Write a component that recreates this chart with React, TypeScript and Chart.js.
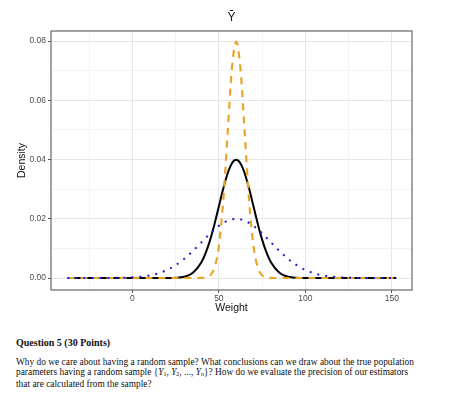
import React, { useEffect, useRef } from "react";
import { Chart, registerables } from "chart.js";

Chart.register(...registerables);

// Weight grid (x) shared by the three density curves
const weights = [-37.5, -30, -20, -10, 0, 5, 10, 15, 20, 25, 30, 35, 40, 42.5, 45, 47.5, 50, 52.5, 55, 57.5, 60, 62.5, 65, 67.5, 70, 72.5, 75, 77.5, 80, 85, 90, 95, 100, 105, 110, 115, 120, 130, 140, 152.5];

// black solid curve (sd ≈ 10)
const densityBlack = [0, 0, 0, 0, 0, 0, 0, 0.0000016, 0.0000134, 0.0000873, 0.000443, 0.00175, 0.0054, 0.00863, 0.01295, 0.01826, 0.0242, 0.03011, 0.03521, 0.03867, 0.03989, 0.03867, 0.03521, 0.03011, 0.0242, 0.01826, 0.01295, 0.00863, 0.0054, 0.00175, 0.000443, 0.0000873, 0.0000134, 0.0000016, 0, 0, 0, 0, 0, 0];

// orange dashed curve (sd ≈ 5)
const densityOrange = [0, 0, 0, 0, 0, 0, 0, 0, 0, 0, 0, 0, 0.0000268, 0.000175, 0.000886, 0.003506, 0.0108, 0.0259, 0.04839, 0.07041, 0.07979, 0.07041, 0.04839, 0.0259, 0.0108, 0.003506, 0.000886, 0.000175, 0.0000268, 0, 0, 0, 0, 0, 0, 0, 0, 0, 0, 0];

// blue dotted curve (sd ≈ 20)
const densityBlue = [0, 0.0000008, 0.0000067, 0.0000436, 0.000222, 0.000455, 0.000876, 0.001587, 0.0027, 0.004314, 0.006476, 0.009132, 0.012099, 0.013602, 0.015057, 0.016408, 0.017603, 0.018593, 0.019333, 0.019792, 0.019947, 0.019792, 0.019333, 0.018593, 0.017603, 0.016408, 0.015057, 0.013602, 0.012099, 0.009132, 0.006476, 0.004314, 0.0027, 0.001587, 0.000876, 0.000455, 0.000222, 0.0000436, 0.0000067, 0];

const xTicks = [-25, 0, 25, 50, 75, 100, 125, 150];
const xMajor = [0, 50, 100, 150];
const yTicks = [0, 0.01, 0.02, 0.03, 0.04, 0.05, 0.06, 0.07, 0.08];
const yMajor = [0, 0.02, 0.04, 0.06, 0.08];

const chartTitle = "Ȳ";
const xTitle = "Weight";
const yTitle = "Density";

const isMajor = (v: number, list: number[]) => list.some((m) => Math.abs(m - v) < 1e-9);

const toPoints = (ys: number[]) => weights.map((x, i) => ({ x, y: ys[i] }));

export default function App() {
  const ref = useRef<HTMLCanvasElement | null>(null);

  useEffect(() => {
    if (!ref.current) return;
    const framePlugin = {
      id: "frame",
      afterDraw(chart: any) {
        const { ctx, chartArea } = chart;
        ctx.save();
        ctx.strokeStyle = "#666666";
        ctx.lineWidth = 1.2;
        ctx.strokeRect(chartArea.left, chartArea.top, chartArea.right - chartArea.left, chartArea.bottom - chartArea.top);
        ctx.fillStyle = "#111111";
        ctx.font = "12px 'Liberation Sans', 'DejaVu Sans', sans-serif";
        ctx.textAlign = "center";
        ctx.textBaseline = "middle";
        ctx.fillText(chartTitle, (chartArea.left + chartArea.right) / 2, 18);
        ctx.restore();
      },
    };

    const chart = new Chart(ref.current, {
      type: "line",
      data: {
        datasets: [
          {
            label: "sd20",
            data: toPoints(densityBlue),
            borderColor: "#1c1cc8",
            borderWidth: 2,
            borderDash: [2, 6],
            pointRadius: 0,
            cubicInterpolationMode: "monotone",
            fill: false,
          },
          {
            label: "sd5",
            data: toPoints(densityOrange),
            borderColor: "#EBA42A",
            borderWidth: 2.2,
            borderDash: [7, 6],
            pointRadius: 0,
            cubicInterpolationMode: "monotone",
            fill: false,
          },
          {
            label: "sd10",
            data: toPoints(densityBlack),
            borderColor: "#000000",
            borderWidth: 2,
            pointRadius: 0,
            cubicInterpolationMode: "monotone",
            fill: false,
          },
        ],
      },
      options: {
        animation: false,
        responsive: false,
        maintainAspectRatio: false,
        layout: { padding: { left: 0, right: 62, top: 31, bottom: 0 } },
        plugins: { legend: { display: false }, tooltip: { enabled: false }, title: { display: false } },
        scales: {
          x: {
            type: "linear",
            min: -47,
            max: 161.6,
            afterBuildTicks: (axis: any) => {
              axis.ticks = xTicks.map((v) => ({ value: v }));
            },
            afterFit: (axis: any) => {
              axis.height = 30;
            },
            border: { display: false },
            grid: {
              color: (c: any) => (isMajor(c.tick?.value, xMajor) ? "#e6e6e6" : "#f3f3f3"),
              tickColor: (c: any) => (isMajor(c.tick?.value, xMajor) ? "#555555" : "rgba(0,0,0,0)"),
              tickLength: 3,
              lineWidth: 1,
            },
            ticks: {
              padding: 1,
              color: "#4d4d4d",
              font: { size: 8.5, family: "'Liberation Sans', Arial, sans-serif" },
              maxRotation: 0,
              autoSkip: false,
              callback: (v: any) => (isMajor(Number(v), xMajor) ? String(v) : ""),
            },
            title: {
              display: true,
              text: xTitle,
              color: "#111111",
              font: { size: 10.5, family: "'Liberation Sans', Arial, sans-serif" },
              padding: { top: 0, bottom: 6 },
            },
          },
          y: {
            type: "linear",
            min: -0.00405,
            max: 0.0834,
            afterBuildTicks: (axis: any) => {
              axis.ticks = yTicks.map((v) => ({ value: v }));
            },
            afterFit: (axis: any) => {
              axis.width = 51;
            },
            border: { display: false },
            grid: {
              color: (c: any) => (isMajor(c.tick?.value, yMajor) ? "#e6e6e6" : "#f3f3f3"),
              tickColor: (c: any) => (isMajor(c.tick?.value, yMajor) ? "#555555" : "rgba(0,0,0,0)"),
              tickLength: 3,
              lineWidth: 1,
            },
            ticks: {
              padding: 2,
              color: "#4d4d4d",
              font: { size: 8.5, family: "'Liberation Sans', Arial, sans-serif" },
              autoSkip: false,
              callback: (v: any) => (isMajor(Number(v), yMajor) ? Number(v).toFixed(2) : ""),
            },
            title: {
              display: true,
              text: yTitle,
              color: "#111111",
              font: { size: 10.5, family: "'Liberation Sans', Arial, sans-serif" },
              padding: { top: 16, bottom: 0 },
            },
          },
        },
      },
      plugins: [framePlugin],
    } as any);
    return () => chart.destroy();
  }, []);

  const serif = "'Liberation Serif', 'DejaVu Serif', serif";
  return (
    <div style={{ position: "absolute", top: 0, left: 0, width: 474, height: 396, background: "#ffffff" }}>
      <canvas ref={ref} width={474} height={320} style={{ position: "absolute", top: 0, left: 0, width: 474, height: 320 }} />
      <div style={{ position: "absolute", top: 337, left: 16, fontFamily: serif, fontSize: 10, fontWeight: "bold", color: "#111", whiteSpace: "nowrap", lineHeight: "12px" }}>
        Question 5 (30 Points)
      </div>
      <div style={{ position: "absolute", top: 358, left: 16, fontFamily: serif, fontSize: 9.4, color: "#111", whiteSpace: "nowrap", lineHeight: "9.9px" }}>
        <div>Why do we care about having a random sample? What conclusions can we draw about the true population</div>
        <div>
          parameters having a random sample {"{"}
          <i>Y</i>
          <sub style={{ fontSize: 6, verticalAlign: "-1px" }}>1</sub>, <i>Y</i>
          <sub style={{ fontSize: 6, verticalAlign: "-1px" }}>2</sub>, ..., <i>Y</i>
          <sub style={{ fontSize: 6, verticalAlign: "-1px" }}>
            <i>n</i>
          </sub>
          {"}"}? How do we evaluate the precision of our estimators
        </div>
        <div>that are calculated from the sample?</div>
      </div>
    </div>
  );
}
